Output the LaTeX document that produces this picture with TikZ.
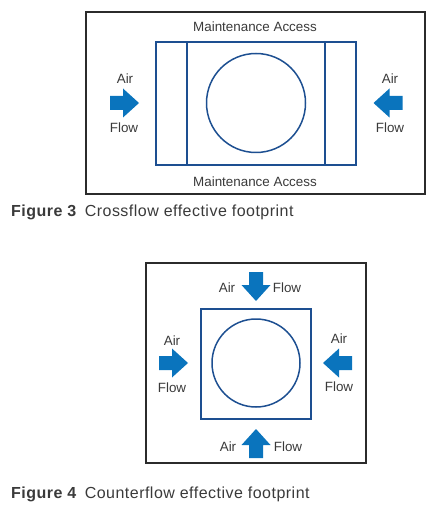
\documentclass[tikz,border=0pt]{standalone}
\usepackage{fontspec}
\setmainfont{Liberation Sans}
\newfontfamily\capfont[LetterSpace=3]{Liberation Sans}
\definecolor{boxgray}{HTML}{2B2B2B}
\definecolor{lineblue}{HTML}{1D4F91}
\definecolor{arrowblue}{HTML}{0A74BD}
\definecolor{txtgray}{HTML}{3A3A3A}
\begin{document}
\begin{tikzpicture}[x=1pt,y=1pt,
  outerbox/.style={draw=boxgray,line width=1.3pt},
  unitline/.style={draw=lineblue,line width=1.5pt},
  lbl/.style={text=txtgray,font=\fontsize{13.4}{15}\selectfont,inner sep=0pt},
  figcaption/.style={text=txtgray,font=\capfont\fontsize{16}{18}\selectfont,inner sep=0pt,anchor=west},
  fatarrow/.pic={\fill[arrowblue] (-14.5,-7) -- (-1.5,-7) -- (-1.5,-14.5) -- (14.5,0) -- (-1.5,14.5) -- (-1.5,7) -- (-14.5,7) -- cycle;}]
\useasboundingbox (0,0) rectangle (439,-510);
% Figure 3
\draw[outerbox] (86,-12) rectangle (425,-194);
\draw[unitline] (156,-42) rectangle (356,-165);
\draw[unitline] (187,-42) -- (187,-165);
\draw[unitline] (325,-42) -- (325,-165);
\draw[unitline] (256,-103) circle (49.5);
\node[lbl] (mtop) at (255,-27) {Maintenance Access};
\node[lbl] (mbot) at (255,-182) {Maintenance Access};
\pic at (124.5,-103) {fatarrow};
\node[lbl] (a1) at (125,-79) {Air};
\node[lbl] (f1) at (124,-128) {Flow};
\pic[rotate=180] at (388,-103) {fatarrow};
\node[lbl] (a2) at (390,-79) {Air};
\node[lbl] (f2) at (390,-128) {Flow};
\node[figcaption] (cap3) at (11,-212) {\textbf{Figure 3}\hspace{0.5em}Crossflow effective footprint};
% Figure 4
\draw[outerbox] (146,-263) rectangle (366,-463);
\draw[unitline] (201,-309) rectangle (311,-419);
\draw[unitline] (256,-363) circle (44);
\pic[rotate=-90] at (256,-286.5) {fatarrow};
\node[lbl] (a3) at (227,-288) {Air};
\node[lbl] (f3) at (287,-288) {Flow};
\pic[rotate=90] at (256,-443.5) {fatarrow};
\node[lbl] (a4) at (228,-447) {Air};
\node[lbl] (f4) at (288,-447) {Flow};
\pic at (173.5,-363) {fatarrow};
\node[lbl] (a5) at (172,-341) {Air};
\node[lbl] (f5) at (172,-388) {Flow};
\pic[rotate=180] at (337.5,-363) {fatarrow};
\node[lbl] (a6) at (339,-339) {Air};
\node[lbl] (f6) at (339,-387) {Flow};
\node[figcaption] (cap4) at (11,-494) {\textbf{Figure 4}\hspace{0.5em}Counterflow effective footprint};
\end{tikzpicture}
\end{document}
